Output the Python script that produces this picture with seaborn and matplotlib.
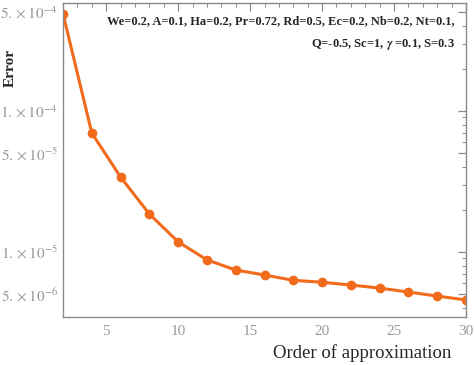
import matplotlib
matplotlib.use("Agg")
import matplotlib.pyplot as plt
import seaborn as sns
import pandas as pd
from matplotlib.ticker import FixedLocator, FixedFormatter, MultipleLocator

# ordem da aproximacao e erro residual
order = [2, 4, 6, 8, 10, 12, 14, 16, 18, 20, 22, 24, 26, 28, 30]
error = [4.9e-4, 6.98e-5, 3.4e-5, 1.86e-5, 1.18e-5, 8.8e-6, 7.45e-6, 6.87e-6,
         6.3e-6, 6.1e-6, 5.83e-6, 5.55e-6, 5.2e-6, 4.87e-6, 4.57e-6]

ytick_vals = [5e-6, 1e-5, 5e-5, 1e-4, 5e-4]
ytick_labels = [r"$5.\times10^{-6}$", r"$1.\times10^{-5}$", r"$5.\times10^{-5}$",
                r"$1.\times10^{-4}$", r"$5.\times10^{-4}$"]
xtick_vals = [5, 10, 15, 20, 25, 30]

params_text = ("We=0.2, A=0.1, Ha=0.2, Pr=0.72, Rd=0.5, Ec=0.2, Nb=0.2, Nt=0.1,\n"
               r"Q=-0.5, Sc=1, $\boldsymbol{\gamma}$ =0.1, S=0.3")

df = pd.DataFrame({"order": order, "error": error})

sns.set_style("white")
plt.rcParams["font.family"] = ["Liberation Serif", "DejaVu Serif"]
plt.rcParams["mathtext.fontset"] = "stix"

fig = plt.figure(figsize=(4.74, 3.65), dpi=100)
ax = fig.add_axes([63 / 474, 1 - 317 / 365, (466 - 63) / 474, (317 - 3) / 365])

sns.lineplot(data=df, x="order", y="error", ax=ax, color="#F26A1B",
             linewidth=2.2, marker="o", markersize=7, markeredgewidth=0)

ax.set_yscale("log")
ax.set_xlim(2, 30)
ax.set_ylim(3.46e-6, 5.83e-4)

ax.yaxis.set_major_locator(FixedLocator(ytick_vals))
ax.yaxis.set_major_formatter(FixedFormatter(ytick_labels))
ax.xaxis.set_major_locator(FixedLocator(xtick_vals))
ax.xaxis.set_minor_locator(MultipleLocator(1))

gray = "#8a8a8a"
for s in ax.spines.values():
    s.set_color(gray)
    s.set_linewidth(1.0)
ax.tick_params(which="both", direction="in", top=True, right=True, color=gray,
               labelcolor="#999999", labelsize=11)
ax.tick_params(which="major", length=6, width=0.9)
ax.tick_params(which="minor", length=3, width=0.7)
ax.tick_params(axis="x", pad=6)

ax.set_xlabel("")
ax.set_ylabel("")
fig.text(10 / 474, 1 - 68 / 365, "Error", rotation=90, ha="center", va="center",
         fontsize=11, fontweight="bold")
fig.text(362 / 474, 1 - 353 / 365, "Order of approximation", ha="center",
         va="center", fontsize=13.5)
fig.text(455 / 474, 1 - 15 / 365, params_text, ha="right", va="top",
         fontsize=9, fontweight="bold", linespacing=2.0)

fig.savefig("out.png", dpi=100)
